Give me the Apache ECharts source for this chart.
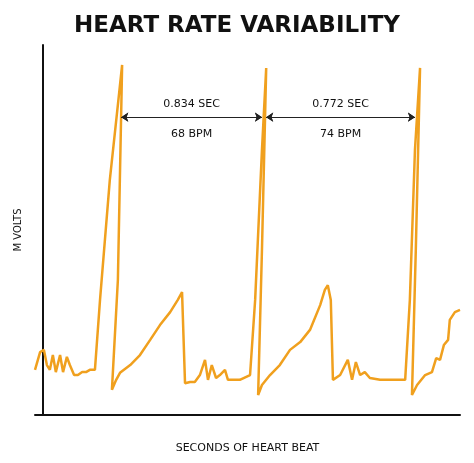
<!DOCTYPE html><html><head><meta charset="utf-8">
<script src="https://cdn.jsdelivr.net/npm/echarts@6/dist/echarts.min.js"></script>
<style>html,body{margin:0;background:#fff}#c{width:474px;height:463px}</style></head><body><div id="c"></div>
<script>
const titleText = "HEART RATE VARIABILITY";
const xLabel = "SECONDS OF HEART BEAT";
const yLabel = "M VOLTS";
const xs = [0,1.2,2.1,2.8,3.5,4.2,4.9,5.9,6.6,7.5,8.2,9.2,10.1,11.1,12,12.9,14.1,15.3,17.6,19.5,20.5,19.5,18.1,19.1,20,22.4,24.7,27.1,29.4,31.8,33.6,34.6,35.3,36.5,37.6,38.8,40,40.7,41.6,42.6,43.5,44.7,45.4,46.4,48.2,50.6,51.8,53.4,54.4,53.4,52.5,53.4,55.3,57.6,60,62.4,64.7,67.1,68.2,68.9,69.6,70.1,71.8,73.6,74.6,75.5,76.5,77.6,78.8,81.2,83.5,87.1,88.2,89.4,90.6,89.6,88.7,89.9,91.8,93.4,94.4,95.3,96.2,97.2,97.6,98.8,100];
const ys = [12.2,17,17.6,13.5,12.2,16.2,11.6,16.2,11.6,15.7,13.5,10.8,10.8,11.6,11.6,12.2,12.2,31.1,63.5,83.8,94.6,36.5,6.8,9.5,11.4,13.5,16.2,20.3,24.3,27.8,31.1,33.2,8.6,8.9,8.9,10.8,14.9,9.5,13.5,10,10.8,12.2,9.5,9.5,9.5,10.8,31.1,71.6,93.8,44.6,5.4,8.1,10.8,13.5,17.6,19.7,23,29.7,33.8,35.1,31.1,9.5,10.8,14.9,9.5,14.3,10.8,11.6,10,9.5,9.5,9.5,31.1,71.6,93.8,44.6,5.4,8.1,10.8,11.6,15.4,14.9,18.9,20.3,25.7,27.8,28.4];
const intervals = [{from:20.3,to:53.4,sec:"0.834 SEC",bpm:"68 BPM"},{from:54.4,to:89.4,sec:"0.772 SEC",bpm:"74 BPM"}];
const arrowY = 80.5;
const data = xs.map((x,i)=>[x,ys[i]]);
const font = "DejaVu Sans";
const ml = [];
intervals.forEach(iv=>{
  ml.push([{coord:[iv.from,arrowY],label:{formatter:iv.sec,position:'middle',distance:8}},{coord:[iv.to,arrowY]}]);
  ml.push([{coord:[iv.from,arrowY],label:{formatter:iv.bpm,position:'middle',distance:8,offset:[0,30]}},{coord:[iv.to,arrowY]}]);
});
const chart = echarts.init(document.getElementById('c'));
chart.setOption({
  animation:false,
  title:{text:titleText,left:'center',top:10,textStyle:{fontFamily:font,fontSize:23,fontWeight:'bold',color:'#111'}},
  grid:{left:35,right:14,top:45,bottom:48},
  xAxis:{type:'value',min:0,max:100,name:xLabel,nameLocation:'middle',nameGap:28,
    nameTextStyle:{fontFamily:font,fontSize:11,color:'#111'},
    axisLine:{lineStyle:{color:'#111',width:2}},axisTick:{show:false},axisLabel:{show:false},splitLine:{show:false}},
  yAxis:{type:'value',min:0,max:100,offset:-8,name:yLabel,nameLocation:'middle',nameGap:20,
    nameTextStyle:{fontFamily:font,fontSize:10,color:'#111'},
    axisLine:{show:true,lineStyle:{color:'#111',width:2}},axisTick:{show:false},axisLabel:{show:false},splitLine:{show:false}},
  series:[{type:'line',data:data,showSymbol:false,lineStyle:{color:'#f0a01e',width:2.5},
    markLine:{silent:true,symbol:['arrow','arrow'],symbolSize:7,lineStyle:{color:'#222',width:1,type:'solid'},
      label:{color:'#111',fontFamily:font,fontSize:11},data:ml}}]
});
</script></body></html>
